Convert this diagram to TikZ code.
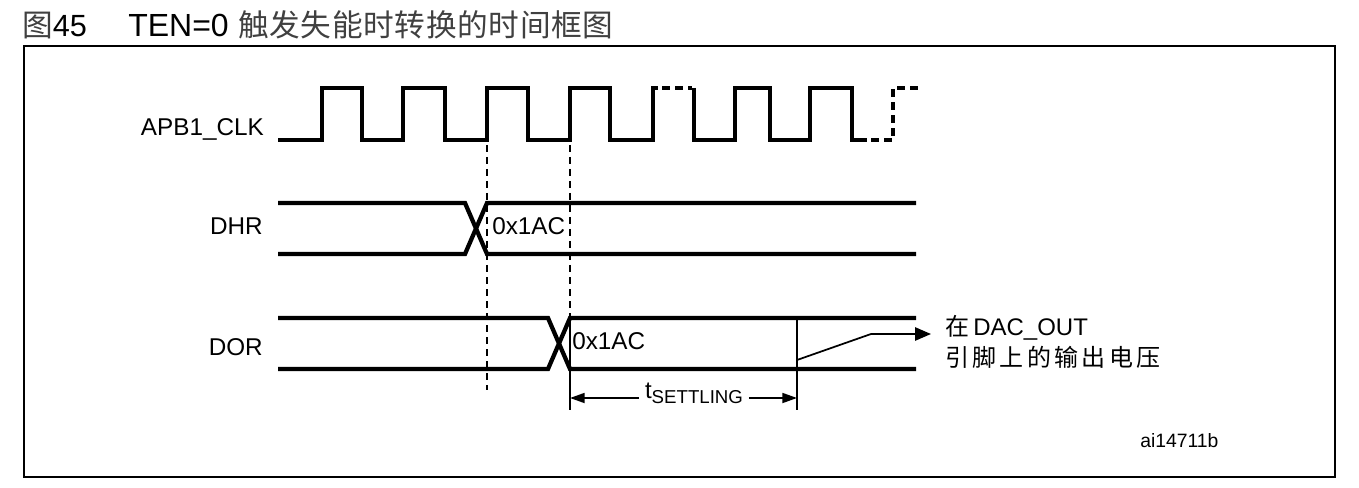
\documentclass[tikz,border=0pt]{standalone}
\usepackage{fontspec}
\setmainfont{Liberation Sans}
\newfontfamily\cjk{Noto Sans CJK SC}
\usetikzlibrary{arrows.meta}
\tikzset{
  sig/.style={line width=3.2pt, line join=miter, line cap=butt},
  sigdash/.style={line width=3.2pt, dash pattern=on 6pt off 3.75pt},
  guide/.style={line width=1.4pt, dash pattern=on 5.25pt off 3.75pt},
  thin/.style={line width=1.3pt},
  lbl/.style={inner sep=0pt, font=\fontsize{18.2}{20}\selectfont},
  bigarrow/.style={-{Triangle[length=12pt,width=10pt]}},
  smallarrow/.style={-{Triangle[length=11pt,width=7.5pt]}},
}
\newcommand{\ck}[1]{{\cjk #1}}
\begin{document}
\begin{tikzpicture}[x=0.75pt,y=-0.75pt]
\useasboundingbox (0,0) rectangle (1359,488);
% title
\node[inner sep=0pt, anchor=base west, font=\fontsize{23}{25}\selectfont] (fig) at (22,37) {{\color{black!75}\ck{图}}45};
\node[inner sep=0pt, anchor=base west, font=\fontsize{24}{26}\selectfont] (title) at (128,37) {TEN=0};
\node[inner sep=0pt, anchor=base west, font=\fontsize{23}{25}\selectfont, text=black!75] (title2) at (238,37) {\cjk 触\kern0.5pt 发\kern0.5pt 失\kern0.5pt 能\kern0.5pt 时\kern0.5pt 转\kern0.5pt 换\kern0.5pt 的\kern0.5pt 时\kern0.5pt 间\kern0.5pt 框\kern0.5pt 图};
% frame
\draw[line width=1.1pt] (24,46) rectangle (1335,477);
% labels
\node[lbl, anchor=base east] (clk) at (264,136) {APB1\_CLK};
\node[lbl, anchor=base east] (dhr) at (263,235) {DHR};
\node[lbl, anchor=base east] (dor) at (263,355) {DOR};
% clock
\draw[sig] (278,140) -- (322,140) -- (322,88) -- (362,88) -- (362,140) -- (403,140) -- (403,88) -- (445,88) -- (445,140) -- (487,140) -- (487,88) -- (528,88) -- (528,140) -- (570,140) -- (570,88) -- (610,88) -- (610,140) -- (653,140) -- (653,88) -- (658,88);
\draw[sigdash] (662,88) -- (692,88);
\draw[sig] (694,88) -- (694,140) -- (735,140) -- (735,88) -- (770,88) -- (770,140) -- (810,140) -- (810,88) -- (852,88) -- (852,140) -- (867,140);
\draw[sigdash] (871,140) -- (893,140) -- (893,88) -- (918,88);
% DHR
\draw[sig] (278,203) -- (465,203) -- (487,254) -- (916,254);
\draw[sig] (278,254) -- (465,254) -- (487,203) -- (916,203);
\node[lbl, anchor=base west] (dhrval) at (492,235) {0x1AC};
% DOR
\draw[sig] (278,318) -- (548,318) -- (570,369) -- (916,369);
\draw[sig] (278,369) -- (548,369) -- (570,318) -- (916,318);
\node[lbl, anchor=base west] (dorval) at (572,349) {0x1AC};
% guides
\coordinate (g1t) at (487,145);
\coordinate (g1b) at (487,390);
\coordinate (g2t) at (570,145);
\coordinate (g2m) at (570,318);
\coordinate (g2b) at (570,410);
\coordinate (g3t) at (797,318);
\coordinate (g3b) at (797,410);
\draw[guide] (g1t) -- (g1b);
\draw[guide] (g2t) -- (g2m);
\draw[thin] (g2m) -- (g2b);
\draw[thin] (g3t) -- (g3b);
% ramp
\coordinate (r0) at (797,360);
\coordinate (r1) at (871,334);
\coordinate (r2) at (931,334);
\draw[thin, bigarrow] (r0) -- (r1) -- (r2);
\node[inner sep=0pt, anchor=base west, font=\fontsize{18}{20}\selectfont] (out1) at (945,335) {\ck{在}\kern3pt DAC\_OUT};
\node[inner sep=0pt, anchor=base west, font=\fontsize{18}{20}\selectfont] (out2) at (945,366) {\cjk 引\kern2.5pt 脚\kern2.5pt 上\kern2.5pt 的\kern2.5pt 输\kern2.5pt 出\kern2.5pt 电\kern2.5pt 压};
% t settling
\node[inner sep=2pt, anchor=base, font=\fontsize{18}{20}\selectfont] (ts) at (694,398) {t\raisebox{-3.75pt}{\fontsize{14}{15}\selectfont SETTLING}};
\coordinate (tsl) at (570,398);
\coordinate (tsr) at (797,398);
\draw[thin, smallarrow] (ts.west |- tsl) ++(-3,0) -- (tsl);
\draw[thin, smallarrow] (ts.east |- tsr) ++(3,0) -- (tsr);
\node[inner sep=0pt, anchor=base west, font=\fontsize{14.5}{16}\selectfont] (ai) at (1140,447) {ai14711b};
\end{tikzpicture}
\end{document}
